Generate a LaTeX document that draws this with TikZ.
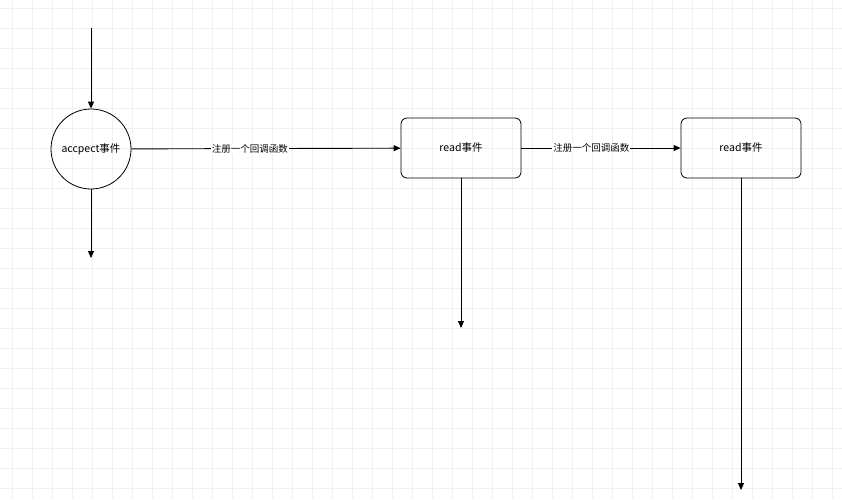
\documentclass[tikz,border=0pt]{standalone}
\usepackage{fontspec}
\setmainfont{Noto Sans CJK SC}
\usetikzlibrary{arrows.meta}
\begin{document}
\begin{tikzpicture}[x=1pt,y=-1pt,
  arr/.style={draw,line width=0.9pt,-{Triangle[length=7pt,width=6pt]}},
  lbl/.style={fill=white,inner sep=1pt,font=\fontsize{9.5}{11}\selectfont},
  box/.style={draw,line width=0.8pt,rounded corners=6pt,minimum width=120pt,minimum height=60pt,font=\fontsize{10.5}{12}\selectfont},
  circ/.style={draw,line width=0.8pt,circle,minimum size=80pt,inner sep=0pt,font=\fontsize{10.5}{12}\selectfont}]
\fill[white] (0,0) rectangle (842,499);
\useasboundingbox (0,0) rectangle (842,499);
\foreach \x in {12,32,...,832} \draw[black!6,line width=0.5pt] (\x,0) -- (\x,499);
\foreach \y in {8,28,...,498} \draw[black!6,line width=0.5pt] (0,\y) -- (842,\y);
\node[circ] (a) at (91,149) {accpect事件};
\node[box] (r1) at (461,148) {read事件};
\node[box] (r2) at (741,148) {read事件};
\coordinate (t) at (91,28);
\coordinate (ab) at (91,258);
\coordinate (r1b) at (461,328);
\coordinate (r2b) at (741,490);
\draw[arr] (t) -- (a);
\draw[arr] (a) -- (ab);
\draw[arr] (a) -- node[lbl,pos=0.44]{注册一个回调函数} (r1);
\draw[arr] (r1) -- node[lbl,pos=0.44]{注册一个回调函数} (r2);
\draw[arr] (r1) -- (r1b);
\draw[arr] (r2) -- (r2b);
\end{tikzpicture}
\end{document}
